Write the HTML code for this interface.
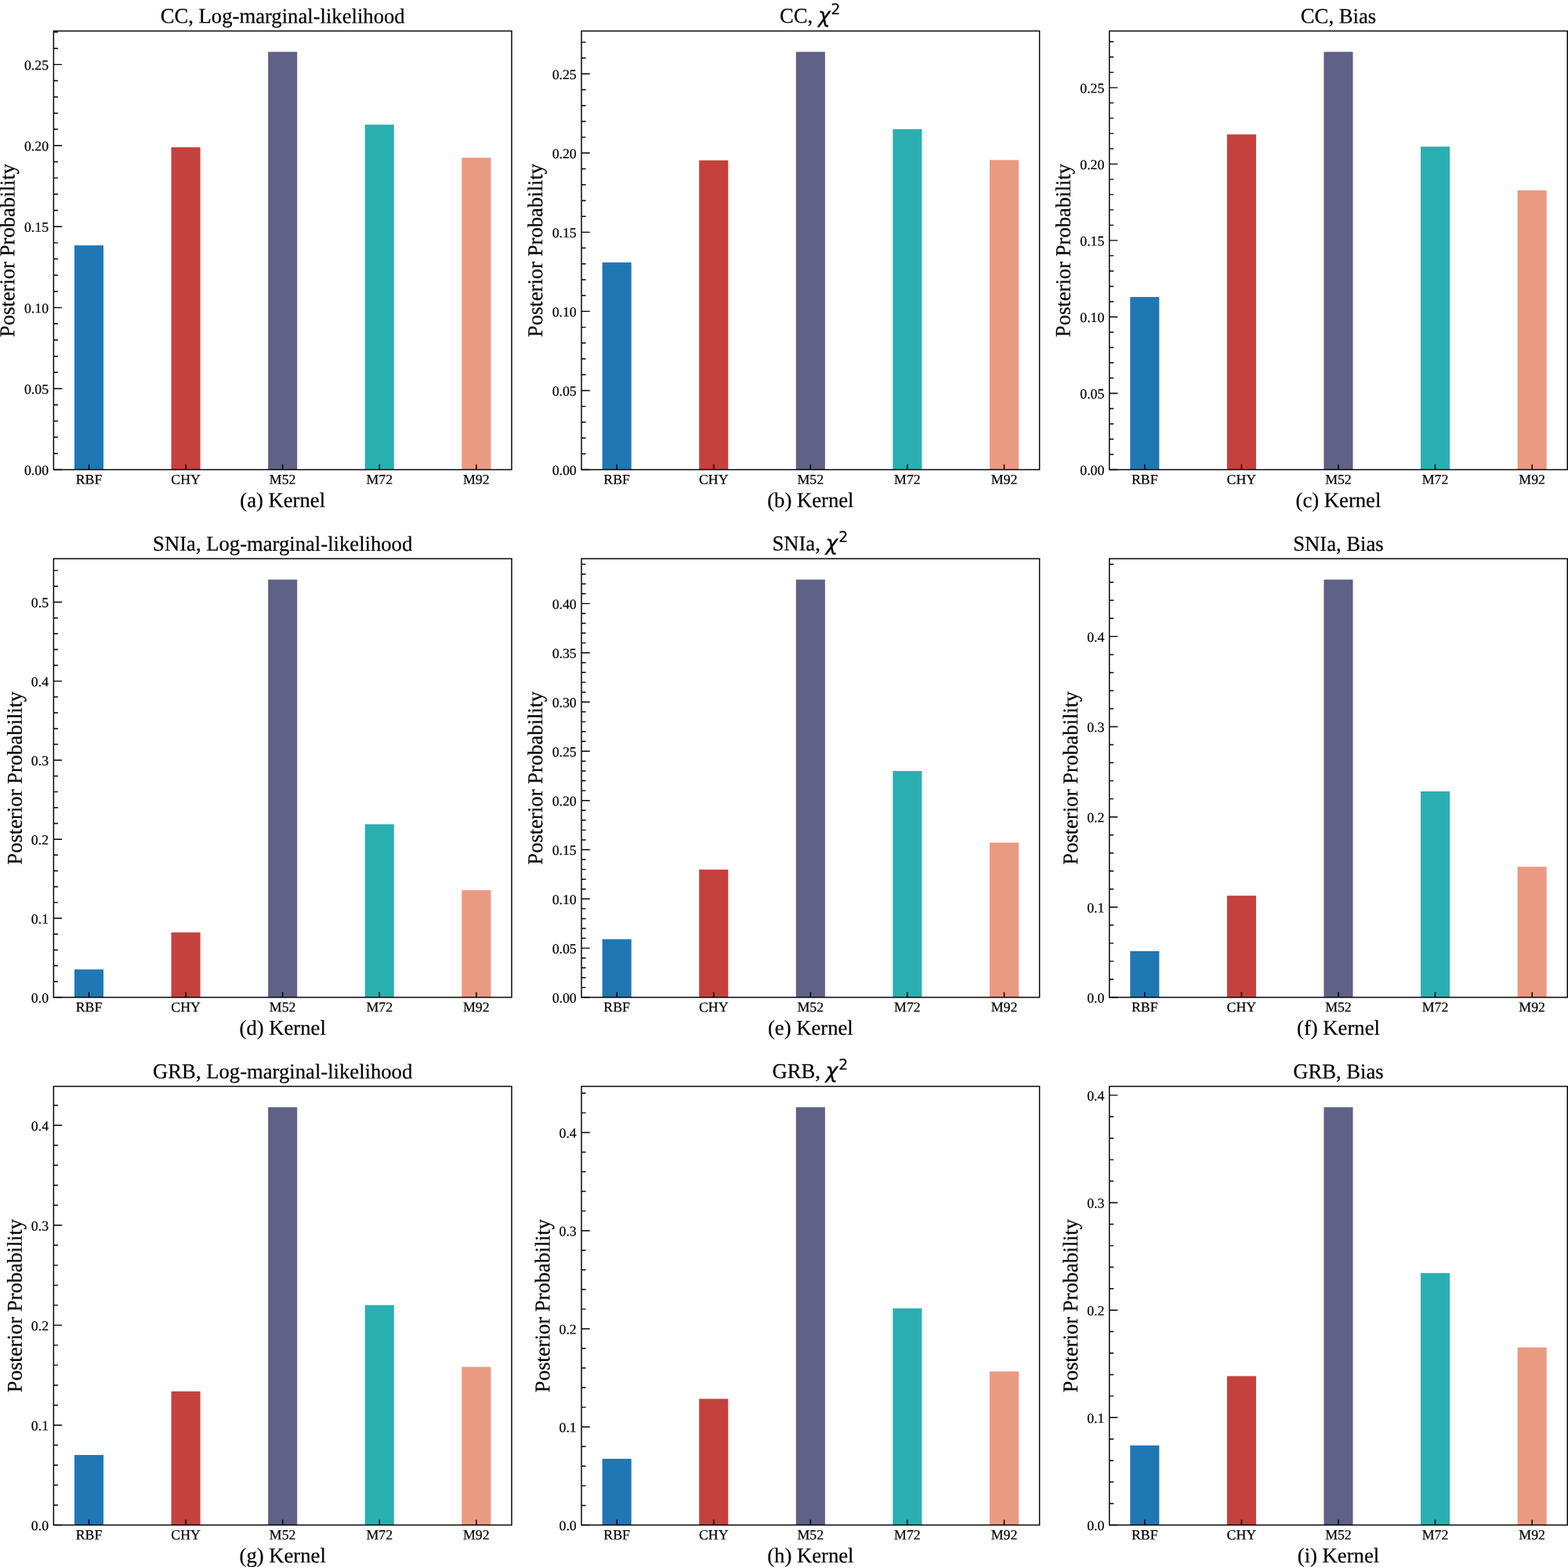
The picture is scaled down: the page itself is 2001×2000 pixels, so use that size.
<!DOCTYPE html>
<html lang="en"><head><meta charset="utf-8"><title>Posterior probability of kernels</title>
<style>
html,body{margin:0;padding:0;background:#fff;}
body{width:2001px;height:2000px;overflow:hidden;}
svg{display:block;}
text{font-family:"Liberation Serif","Times New Roman",serif;fill:#000;stroke:#000;stroke-width:0.22px;text-rendering:geometricPrecision;}
.t{font-size:26.67px;text-anchor:middle;}
.k{font-size:17.8px;}
.xk{text-anchor:middle;}
.yk{text-anchor:end;}
.m{font-family:"DejaVu Sans",sans-serif;font-style:italic;}
.s{font-family:"DejaVu Sans",sans-serif;font-size:18.67px;}
.sp{fill:none;stroke:#000;stroke-width:1.45;stroke-linecap:square;}
.tk{stroke:#000;stroke-width:1.45;fill:none;}
</style></head><body>
<svg xmlns="http://www.w3.org/2000/svg" width="2001" height="2000" viewBox="0 0 2001 2000">
<rect width="2001" height="2000" fill="#fff"/>
<g>
<rect x="94.97" y="313.18" width="37.08" height="286.27" fill="#1f77b4"/>
<rect x="218.55" y="188.04" width="37.08" height="411.41" fill="#c4413d"/>
<rect x="342.14" y="66.21" width="37.08" height="533.24" fill="#5f6186"/>
<rect x="465.72" y="159.08" width="37.08" height="440.37" fill="#2aafb0"/>
<rect x="589.3" y="201.28" width="37.08" height="398.17" fill="#eb9a82"/>
<path class="tk" d="M68.4 599.45h10.67M68.4 578.77h5.5M68.4 558.08h5.5M68.4 537.4h5.5M68.4 516.71h5.5M68.4 496.03h10.67M68.4 475.34h5.5M68.4 454.66h5.5M68.4 433.98h5.5M68.4 413.29h5.5M68.4 392.61h10.67M68.4 371.92h5.5M68.4 351.24h5.5M68.4 330.56h5.5M68.4 309.87h5.5M68.4 289.19h10.67M68.4 268.5h5.5M68.4 247.82h5.5M68.4 227.13h5.5M68.4 206.45h5.5M68.4 185.77h10.67M68.4 165.08h5.5M68.4 144.4h5.5M68.4 123.71h5.5M68.4 103.03h5.5M68.4 82.35h10.67M68.4 61.66h5.5M68.4 40.98h5.5M113.51 599.45v-6.67M237.09 599.45v-6.67M360.67 599.45v-6.67M484.26 599.45v-6.67M607.84 599.45v-6.67"/>
<rect class="sp" x="68.4" y="39.55" width="584.55" height="559.9"/>
<text class="k yk" transform="translate(62.1 606.05) rotate(0.03)" xml:space="preserve">0.00</text>
<text class="k yk" transform="translate(62.1 502.63) rotate(0.03)" xml:space="preserve">0.05</text>
<text class="k yk" transform="translate(62.1 399.21) rotate(0.03)" xml:space="preserve">0.10</text>
<text class="k yk" transform="translate(62.1 295.79) rotate(0.03)" xml:space="preserve">0.15</text>
<text class="k yk" transform="translate(62.1 192.37) rotate(0.03)" xml:space="preserve">0.20</text>
<text class="k yk" transform="translate(62.1 88.95) rotate(0.03)" xml:space="preserve">0.25</text>
<text class="k xk" transform="translate(113.51 617.8) rotate(0.03)" xml:space="preserve">RBF</text>
<text class="k xk" transform="translate(237.09 617.8) rotate(0.03)" xml:space="preserve">CHY</text>
<text class="k xk" transform="translate(360.67 617.8) rotate(0.03)" xml:space="preserve">M52</text>
<text class="k xk" transform="translate(484.26 617.8) rotate(0.03)" xml:space="preserve">M72</text>
<text class="k xk" transform="translate(607.84 617.8) rotate(0.03)" xml:space="preserve">M92</text>
<text class="t" transform="translate(360.67 647.3) rotate(0.03) scale(1 1.015)" xml:space="preserve">(a) Kernel</text>
<text class="t" transform="translate(18.36 319.5) rotate(-89.97) scale(1 1.015)" xml:space="preserve">Posterior Probability</text>
<text class="t" transform="translate(360.67 29.4) rotate(0.03) scale(1 1.015)" xml:space="preserve">CC, Log-marginal-likelihood</text>
</g>
<g>
<rect x="768.62" y="334.95" width="37.08" height="264.5" fill="#1f77b4"/>
<rect x="892.2" y="204.62" width="37.08" height="394.83" fill="#c4413d"/>
<rect x="1015.79" y="66.21" width="37.08" height="533.24" fill="#5f6186"/>
<rect x="1139.37" y="164.82" width="37.08" height="434.63" fill="#2aafb0"/>
<rect x="1262.95" y="204.22" width="37.08" height="395.23" fill="#eb9a82"/>
<path class="tk" d="M742.05 599.45h10.67M742.05 579.24h5.5M742.05 559.04h5.5M742.05 538.83h5.5M742.05 518.63h5.5M742.05 498.42h10.67M742.05 478.21h5.5M742.05 458.01h5.5M742.05 437.8h5.5M742.05 417.6h5.5M742.05 397.39h10.67M742.05 377.18h5.5M742.05 356.98h5.5M742.05 336.77h5.5M742.05 316.57h5.5M742.05 296.36h10.67M742.05 276.15h5.5M742.05 255.95h5.5M742.05 235.74h5.5M742.05 215.53h5.5M742.05 195.33h10.67M742.05 175.12h5.5M742.05 154.92h5.5M742.05 134.71h5.5M742.05 114.5h5.5M742.05 94.3h10.67M742.05 74.09h5.5M742.05 53.89h5.5M787.16 599.45v-6.67M910.74 599.45v-6.67M1034.32 599.45v-6.67M1157.91 599.45v-6.67M1281.49 599.45v-6.67"/>
<rect class="sp" x="742.05" y="39.55" width="584.55" height="559.9"/>
<text class="k yk" transform="translate(735.75 606.05) rotate(0.03)" xml:space="preserve">0.00</text>
<text class="k yk" transform="translate(735.75 505.02) rotate(0.03)" xml:space="preserve">0.05</text>
<text class="k yk" transform="translate(735.75 403.99) rotate(0.03)" xml:space="preserve">0.10</text>
<text class="k yk" transform="translate(735.75 302.96) rotate(0.03)" xml:space="preserve">0.15</text>
<text class="k yk" transform="translate(735.75 201.93) rotate(0.03)" xml:space="preserve">0.20</text>
<text class="k yk" transform="translate(735.75 100.9) rotate(0.03)" xml:space="preserve">0.25</text>
<text class="k xk" transform="translate(787.16 617.8) rotate(0.03)" xml:space="preserve">RBF</text>
<text class="k xk" transform="translate(910.74 617.8) rotate(0.03)" xml:space="preserve">CHY</text>
<text class="k xk" transform="translate(1034.32 617.8) rotate(0.03)" xml:space="preserve">M52</text>
<text class="k xk" transform="translate(1157.91 617.8) rotate(0.03)" xml:space="preserve">M72</text>
<text class="k xk" transform="translate(1281.49 617.8) rotate(0.03)" xml:space="preserve">M92</text>
<text class="t" transform="translate(1034.32 647.3) rotate(0.03) scale(1 1.015)" xml:space="preserve">(b) Kernel</text>
<text class="t" transform="translate(692.01 319.5) rotate(-89.97) scale(1 1.015)" xml:space="preserve">Posterior Probability</text>
<text class="t" transform="translate(1033.72 29.1) rotate(0.03) scale(1 1.015)" xml:space="preserve">CC, <tspan class="m" dy="-0.4">χ</tspan><tspan class="s" dy="-10.4" dx="0.9">2</tspan></text>
</g>
<g>
<rect x="1442.27" y="379.06" width="37.08" height="220.39" fill="#1f77b4"/>
<rect x="1565.85" y="171.53" width="37.08" height="427.92" fill="#c4413d"/>
<rect x="1689.44" y="66.21" width="37.08" height="533.24" fill="#5f6186"/>
<rect x="1813.02" y="187.14" width="37.08" height="412.31" fill="#2aafb0"/>
<rect x="1936.6" y="242.92" width="37.08" height="356.53" fill="#eb9a82"/>
<path class="tk" d="M1415.7 599.45h10.67M1415.7 579.95h5.5M1415.7 560.44h5.5M1415.7 540.94h5.5M1415.7 521.43h5.5M1415.7 501.93h10.67M1415.7 482.43h5.5M1415.7 462.92h5.5M1415.7 443.42h5.5M1415.7 423.91h5.5M1415.7 404.41h10.67M1415.7 384.91h5.5M1415.7 365.4h5.5M1415.7 345.9h5.5M1415.7 326.39h5.5M1415.7 306.89h10.67M1415.7 287.39h5.5M1415.7 267.88h5.5M1415.7 248.38h5.5M1415.7 228.87h5.5M1415.7 209.37h10.67M1415.7 189.87h5.5M1415.7 170.36h5.5M1415.7 150.86h5.5M1415.7 131.36h5.5M1415.7 111.85h10.67M1415.7 92.35h5.5M1415.7 72.84h5.5M1415.7 53.34h5.5M1460.81 599.45v-6.67M1584.39 599.45v-6.67M1707.97 599.45v-6.67M1831.56 599.45v-6.67M1955.14 599.45v-6.67"/>
<rect class="sp" x="1415.7" y="39.55" width="584.55" height="559.9"/>
<text class="k yk" transform="translate(1409.4 606.05) rotate(0.03)" xml:space="preserve">0.00</text>
<text class="k yk" transform="translate(1409.4 508.53) rotate(0.03)" xml:space="preserve">0.05</text>
<text class="k yk" transform="translate(1409.4 411.01) rotate(0.03)" xml:space="preserve">0.10</text>
<text class="k yk" transform="translate(1409.4 313.49) rotate(0.03)" xml:space="preserve">0.15</text>
<text class="k yk" transform="translate(1409.4 215.97) rotate(0.03)" xml:space="preserve">0.20</text>
<text class="k yk" transform="translate(1409.4 118.45) rotate(0.03)" xml:space="preserve">0.25</text>
<text class="k xk" transform="translate(1460.81 617.8) rotate(0.03)" xml:space="preserve">RBF</text>
<text class="k xk" transform="translate(1584.39 617.8) rotate(0.03)" xml:space="preserve">CHY</text>
<text class="k xk" transform="translate(1707.97 617.8) rotate(0.03)" xml:space="preserve">M52</text>
<text class="k xk" transform="translate(1831.56 617.8) rotate(0.03)" xml:space="preserve">M72</text>
<text class="k xk" transform="translate(1955.14 617.8) rotate(0.03)" xml:space="preserve">M92</text>
<text class="t" transform="translate(1707.97 647.3) rotate(0.03) scale(1 1.015)" xml:space="preserve">(c) Kernel</text>
<text class="t" transform="translate(1365.66 319.5) rotate(-89.97) scale(1 1.015)" xml:space="preserve">Posterior Probability</text>
<text class="t" transform="translate(1707.97 29.4) rotate(0.03) scale(1 1.015)" xml:space="preserve">CC, Bias</text>
</g>
<g>
<rect x="94.97" y="1237.33" width="37.08" height="35.62" fill="#1f77b4"/>
<rect x="218.55" y="1190.11" width="37.08" height="82.84" fill="#c4413d"/>
<rect x="342.14" y="739.71" width="37.08" height="533.24" fill="#5f6186"/>
<rect x="465.72" y="1052.09" width="37.08" height="220.86" fill="#2aafb0"/>
<rect x="589.3" y="1136.13" width="37.08" height="136.82" fill="#eb9a82"/>
<path class="tk" d="M68.4 1272.95h10.67M68.4 1252.77h5.5M68.4 1232.59h5.5M68.4 1212.41h5.5M68.4 1192.23h5.5M68.4 1172.05h10.67M68.4 1151.87h5.5M68.4 1131.69h5.5M68.4 1111.52h5.5M68.4 1091.34h5.5M68.4 1071.16h10.67M68.4 1050.98h5.5M68.4 1030.8h5.5M68.4 1010.62h5.5M68.4 990.44h5.5M68.4 970.26h10.67M68.4 950.08h5.5M68.4 929.9h5.5M68.4 909.72h5.5M68.4 889.54h5.5M68.4 869.36h10.67M68.4 849.18h5.5M68.4 829.01h5.5M68.4 808.83h5.5M68.4 788.65h5.5M68.4 768.47h10.67M68.4 748.29h5.5M68.4 728.11h5.5M113.51 1272.95v-6.67M237.09 1272.95v-6.67M360.67 1272.95v-6.67M484.26 1272.95v-6.67M607.84 1272.95v-6.67"/>
<rect class="sp" x="68.4" y="713.05" width="584.55" height="559.9"/>
<text class="k yk" transform="translate(62.1 1279.55) rotate(0.03)" xml:space="preserve">0.0</text>
<text class="k yk" transform="translate(62.1 1178.65) rotate(0.03)" xml:space="preserve">0.1</text>
<text class="k yk" transform="translate(62.1 1077.76) rotate(0.03)" xml:space="preserve">0.2</text>
<text class="k yk" transform="translate(62.1 976.86) rotate(0.03)" xml:space="preserve">0.3</text>
<text class="k yk" transform="translate(62.1 875.96) rotate(0.03)" xml:space="preserve">0.4</text>
<text class="k yk" transform="translate(62.1 775.07) rotate(0.03)" xml:space="preserve">0.5</text>
<text class="k xk" transform="translate(113.51 1291.3) rotate(0.03)" xml:space="preserve">RBF</text>
<text class="k xk" transform="translate(237.09 1291.3) rotate(0.03)" xml:space="preserve">CHY</text>
<text class="k xk" transform="translate(360.67 1291.3) rotate(0.03)" xml:space="preserve">M52</text>
<text class="k xk" transform="translate(484.26 1291.3) rotate(0.03)" xml:space="preserve">M72</text>
<text class="k xk" transform="translate(607.84 1291.3) rotate(0.03)" xml:space="preserve">M92</text>
<text class="t" transform="translate(360.67 1320.8) rotate(0.03) scale(1 1.015)" xml:space="preserve">(d) Kernel</text>
<text class="t" transform="translate(27.69 993) rotate(-89.97) scale(1 1.015)" xml:space="preserve">Posterior Probability</text>
<text class="t" transform="translate(360.67 702.9) rotate(0.03) scale(1 1.015)" xml:space="preserve">SNIa, Log-marginal-likelihood</text>
</g>
<g>
<rect x="768.62" y="1198.69" width="37.08" height="74.26" fill="#1f77b4"/>
<rect x="892.2" y="1109.86" width="37.08" height="163.09" fill="#c4413d"/>
<rect x="1015.79" y="739.71" width="37.08" height="533.24" fill="#5f6186"/>
<rect x="1139.37" y="984.09" width="37.08" height="288.86" fill="#2aafb0"/>
<rect x="1262.95" y="1075.44" width="37.08" height="197.51" fill="#eb9a82"/>
<path class="tk" d="M742.05 1272.95h10.67M742.05 1260.39h5.5M742.05 1247.82h5.5M742.05 1235.26h5.5M742.05 1222.69h5.5M742.05 1210.13h10.67M742.05 1197.56h5.5M742.05 1185h5.5M742.05 1172.43h5.5M742.05 1159.87h5.5M742.05 1147.3h10.67M742.05 1134.74h5.5M742.05 1122.18h5.5M742.05 1109.61h5.5M742.05 1097.05h5.5M742.05 1084.48h10.67M742.05 1071.92h5.5M742.05 1059.35h5.5M742.05 1046.79h5.5M742.05 1034.22h5.5M742.05 1021.66h10.67M742.05 1009.1h5.5M742.05 996.53h5.5M742.05 983.97h5.5M742.05 971.4h5.5M742.05 958.84h10.67M742.05 946.27h5.5M742.05 933.71h5.5M742.05 921.14h5.5M742.05 908.58h5.5M742.05 896.01h10.67M742.05 883.45h5.5M742.05 870.89h5.5M742.05 858.32h5.5M742.05 845.76h5.5M742.05 833.19h10.67M742.05 820.63h5.5M742.05 808.06h5.5M742.05 795.5h5.5M742.05 782.93h5.5M742.05 770.37h10.67M742.05 757.8h5.5M742.05 745.24h5.5M742.05 732.68h5.5M742.05 720.11h5.5M787.16 1272.95v-6.67M910.74 1272.95v-6.67M1034.32 1272.95v-6.67M1157.91 1272.95v-6.67M1281.49 1272.95v-6.67"/>
<rect class="sp" x="742.05" y="713.05" width="584.55" height="559.9"/>
<text class="k yk" transform="translate(735.75 1279.55) rotate(0.03)" xml:space="preserve">0.00</text>
<text class="k yk" transform="translate(735.75 1216.73) rotate(0.03)" xml:space="preserve">0.05</text>
<text class="k yk" transform="translate(735.75 1153.9) rotate(0.03)" xml:space="preserve">0.10</text>
<text class="k yk" transform="translate(735.75 1091.08) rotate(0.03)" xml:space="preserve">0.15</text>
<text class="k yk" transform="translate(735.75 1028.26) rotate(0.03)" xml:space="preserve">0.20</text>
<text class="k yk" transform="translate(735.75 965.44) rotate(0.03)" xml:space="preserve">0.25</text>
<text class="k yk" transform="translate(735.75 902.61) rotate(0.03)" xml:space="preserve">0.30</text>
<text class="k yk" transform="translate(735.75 839.79) rotate(0.03)" xml:space="preserve">0.35</text>
<text class="k yk" transform="translate(735.75 776.97) rotate(0.03)" xml:space="preserve">0.40</text>
<text class="k xk" transform="translate(787.16 1291.3) rotate(0.03)" xml:space="preserve">RBF</text>
<text class="k xk" transform="translate(910.74 1291.3) rotate(0.03)" xml:space="preserve">CHY</text>
<text class="k xk" transform="translate(1034.32 1291.3) rotate(0.03)" xml:space="preserve">M52</text>
<text class="k xk" transform="translate(1157.91 1291.3) rotate(0.03)" xml:space="preserve">M72</text>
<text class="k xk" transform="translate(1281.49 1291.3) rotate(0.03)" xml:space="preserve">M92</text>
<text class="t" transform="translate(1034.32 1320.8) rotate(0.03) scale(1 1.015)" xml:space="preserve">(e) Kernel</text>
<text class="t" transform="translate(692.01 993) rotate(-89.97) scale(1 1.015)" xml:space="preserve">Posterior Probability</text>
<text class="t" transform="translate(1033.72 702.6) rotate(0.03) scale(1 1.015)" xml:space="preserve">SNIa, <tspan class="m" dy="-0.4">χ</tspan><tspan class="s" dy="-10.4" dx="0.9">2</tspan></text>
</g>
<g>
<rect x="1442.27" y="1214" width="37.08" height="58.95" fill="#1f77b4"/>
<rect x="1565.85" y="1143.18" width="37.08" height="129.77" fill="#c4413d"/>
<rect x="1689.44" y="739.71" width="37.08" height="533.24" fill="#5f6186"/>
<rect x="1813.02" y="1010.07" width="37.08" height="262.88" fill="#2aafb0"/>
<rect x="1936.6" y="1106.22" width="37.08" height="166.73" fill="#eb9a82"/>
<path class="tk" d="M1415.7 1272.95h10.67M1415.7 1249.92h5.5M1415.7 1226.89h5.5M1415.7 1203.86h5.5M1415.7 1180.83h5.5M1415.7 1157.8h10.67M1415.7 1134.78h5.5M1415.7 1111.75h5.5M1415.7 1088.72h5.5M1415.7 1065.69h5.5M1415.7 1042.66h10.67M1415.7 1019.63h5.5M1415.7 996.6h5.5M1415.7 973.57h5.5M1415.7 950.54h5.5M1415.7 927.51h10.67M1415.7 904.48h5.5M1415.7 881.46h5.5M1415.7 858.43h5.5M1415.7 835.4h5.5M1415.7 812.37h10.67M1415.7 789.34h5.5M1415.7 766.31h5.5M1415.7 743.28h5.5M1415.7 720.25h5.5M1460.81 1272.95v-6.67M1584.39 1272.95v-6.67M1707.97 1272.95v-6.67M1831.56 1272.95v-6.67M1955.14 1272.95v-6.67"/>
<rect class="sp" x="1415.7" y="713.05" width="584.55" height="559.9"/>
<text class="k yk" transform="translate(1409.4 1279.55) rotate(0.03)" xml:space="preserve">0.0</text>
<text class="k yk" transform="translate(1409.4 1164.4) rotate(0.03)" xml:space="preserve">0.1</text>
<text class="k yk" transform="translate(1409.4 1049.26) rotate(0.03)" xml:space="preserve">0.2</text>
<text class="k yk" transform="translate(1409.4 934.11) rotate(0.03)" xml:space="preserve">0.3</text>
<text class="k yk" transform="translate(1409.4 818.97) rotate(0.03)" xml:space="preserve">0.4</text>
<text class="k xk" transform="translate(1460.81 1291.3) rotate(0.03)" xml:space="preserve">RBF</text>
<text class="k xk" transform="translate(1584.39 1291.3) rotate(0.03)" xml:space="preserve">CHY</text>
<text class="k xk" transform="translate(1707.97 1291.3) rotate(0.03)" xml:space="preserve">M52</text>
<text class="k xk" transform="translate(1831.56 1291.3) rotate(0.03)" xml:space="preserve">M72</text>
<text class="k xk" transform="translate(1955.14 1291.3) rotate(0.03)" xml:space="preserve">M92</text>
<text class="t" transform="translate(1707.97 1320.8) rotate(0.03) scale(1 1.015)" xml:space="preserve">(f) Kernel</text>
<text class="t" transform="translate(1374.99 993) rotate(-89.97) scale(1 1.015)" xml:space="preserve">Posterior Probability</text>
<text class="t" transform="translate(1707.97 702.9) rotate(0.03) scale(1 1.015)" xml:space="preserve">SNIa, Bias</text>
</g>
<g>
<rect x="94.97" y="1857.05" width="37.08" height="89.4" fill="#1f77b4"/>
<rect x="218.55" y="1775.8" width="37.08" height="170.65" fill="#c4413d"/>
<rect x="342.14" y="1413.21" width="37.08" height="533.24" fill="#5f6186"/>
<rect x="465.72" y="1665.74" width="37.08" height="280.71" fill="#2aafb0"/>
<rect x="589.3" y="1744.56" width="37.08" height="201.89" fill="#eb9a82"/>
<path class="tk" d="M68.4 1946.45h10.67M68.4 1920.94h5.5M68.4 1895.43h5.5M68.4 1869.93h5.5M68.4 1844.42h5.5M68.4 1818.91h10.67M68.4 1793.4h5.5M68.4 1767.9h5.5M68.4 1742.39h5.5M68.4 1716.88h5.5M68.4 1691.37h10.67M68.4 1665.87h5.5M68.4 1640.36h5.5M68.4 1614.85h5.5M68.4 1589.34h5.5M68.4 1563.83h10.67M68.4 1538.33h5.5M68.4 1512.82h5.5M68.4 1487.31h5.5M68.4 1461.8h5.5M68.4 1436.3h10.67M68.4 1410.79h5.5M113.51 1946.45v-6.67M237.09 1946.45v-6.67M360.67 1946.45v-6.67M484.26 1946.45v-6.67M607.84 1946.45v-6.67"/>
<rect class="sp" x="68.4" y="1386.55" width="584.55" height="559.9"/>
<text class="k yk" transform="translate(62.1 1953.05) rotate(0.03)" xml:space="preserve">0.0</text>
<text class="k yk" transform="translate(62.1 1825.51) rotate(0.03)" xml:space="preserve">0.1</text>
<text class="k yk" transform="translate(62.1 1697.97) rotate(0.03)" xml:space="preserve">0.2</text>
<text class="k yk" transform="translate(62.1 1570.43) rotate(0.03)" xml:space="preserve">0.3</text>
<text class="k yk" transform="translate(62.1 1442.9) rotate(0.03)" xml:space="preserve">0.4</text>
<text class="k xk" transform="translate(113.51 1964.8) rotate(0.03)" xml:space="preserve">RBF</text>
<text class="k xk" transform="translate(237.09 1964.8) rotate(0.03)" xml:space="preserve">CHY</text>
<text class="k xk" transform="translate(360.67 1964.8) rotate(0.03)" xml:space="preserve">M52</text>
<text class="k xk" transform="translate(484.26 1964.8) rotate(0.03)" xml:space="preserve">M72</text>
<text class="k xk" transform="translate(607.84 1964.8) rotate(0.03)" xml:space="preserve">M92</text>
<text class="t" transform="translate(360.67 1994.3) rotate(0.03) scale(1 1.015)" xml:space="preserve">(g) Kernel</text>
<text class="t" transform="translate(27.69 1666.5) rotate(-89.97) scale(1 1.015)" xml:space="preserve">Posterior Probability</text>
<text class="t" transform="translate(360.67 1376.4) rotate(0.03) scale(1 1.015)" xml:space="preserve">GRB, Log-marginal-likelihood</text>
</g>
<g>
<rect x="768.62" y="1861.9" width="37.08" height="84.55" fill="#1f77b4"/>
<rect x="892.2" y="1785.36" width="37.08" height="161.09" fill="#c4413d"/>
<rect x="1015.79" y="1413.21" width="37.08" height="533.24" fill="#5f6186"/>
<rect x="1139.37" y="1669.87" width="37.08" height="276.58" fill="#2aafb0"/>
<rect x="1262.95" y="1750.42" width="37.08" height="196.03" fill="#eb9a82"/>
<path class="tk" d="M742.05 1946.45h10.67M742.05 1921.4h5.5M742.05 1896.35h5.5M742.05 1871.29h5.5M742.05 1846.24h5.5M742.05 1821.19h10.67M742.05 1796.14h5.5M742.05 1771.08h5.5M742.05 1746.03h5.5M742.05 1720.98h5.5M742.05 1695.93h10.67M742.05 1670.87h5.5M742.05 1645.82h5.5M742.05 1620.77h5.5M742.05 1595.72h5.5M742.05 1570.67h10.67M742.05 1545.61h5.5M742.05 1520.56h5.5M742.05 1495.51h5.5M742.05 1470.46h5.5M742.05 1445.4h10.67M742.05 1420.35h5.5M742.05 1395.3h5.5M787.16 1946.45v-6.67M910.74 1946.45v-6.67M1034.32 1946.45v-6.67M1157.91 1946.45v-6.67M1281.49 1946.45v-6.67"/>
<rect class="sp" x="742.05" y="1386.55" width="584.55" height="559.9"/>
<text class="k yk" transform="translate(735.75 1953.05) rotate(0.03)" xml:space="preserve">0.0</text>
<text class="k yk" transform="translate(735.75 1827.79) rotate(0.03)" xml:space="preserve">0.1</text>
<text class="k yk" transform="translate(735.75 1702.53) rotate(0.03)" xml:space="preserve">0.2</text>
<text class="k yk" transform="translate(735.75 1577.27) rotate(0.03)" xml:space="preserve">0.3</text>
<text class="k yk" transform="translate(735.75 1452) rotate(0.03)" xml:space="preserve">0.4</text>
<text class="k xk" transform="translate(787.16 1964.8) rotate(0.03)" xml:space="preserve">RBF</text>
<text class="k xk" transform="translate(910.74 1964.8) rotate(0.03)" xml:space="preserve">CHY</text>
<text class="k xk" transform="translate(1034.32 1964.8) rotate(0.03)" xml:space="preserve">M52</text>
<text class="k xk" transform="translate(1157.91 1964.8) rotate(0.03)" xml:space="preserve">M72</text>
<text class="k xk" transform="translate(1281.49 1964.8) rotate(0.03)" xml:space="preserve">M92</text>
<text class="t" transform="translate(1034.32 1994.3) rotate(0.03) scale(1 1.015)" xml:space="preserve">(h) Kernel</text>
<text class="t" transform="translate(701.34 1666.5) rotate(-89.97) scale(1 1.015)" xml:space="preserve">Posterior Probability</text>
<text class="t" transform="translate(1033.72 1376.1) rotate(0.03) scale(1 1.015)" xml:space="preserve">GRB, <tspan class="m" dy="-0.4">χ</tspan><tspan class="s" dy="-10.4" dx="0.9">2</tspan></text>
</g>
<g>
<rect x="1442.27" y="1844.82" width="37.08" height="101.63" fill="#1f77b4"/>
<rect x="1565.85" y="1756.36" width="37.08" height="190.09" fill="#c4413d"/>
<rect x="1689.44" y="1413.21" width="37.08" height="533.24" fill="#5f6186"/>
<rect x="1813.02" y="1624.83" width="37.08" height="321.62" fill="#2aafb0"/>
<rect x="1936.6" y="1719.74" width="37.08" height="226.71" fill="#eb9a82"/>
<path class="tk" d="M1415.7 1946.45h10.67M1415.7 1919.02h5.5M1415.7 1891.59h5.5M1415.7 1864.16h5.5M1415.7 1836.73h5.5M1415.7 1809.3h10.67M1415.7 1781.87h5.5M1415.7 1754.44h5.5M1415.7 1727.01h5.5M1415.7 1699.58h5.5M1415.7 1672.15h10.67M1415.7 1644.72h5.5M1415.7 1617.29h5.5M1415.7 1589.86h5.5M1415.7 1562.43h5.5M1415.7 1535h10.67M1415.7 1507.57h5.5M1415.7 1480.14h5.5M1415.7 1452.71h5.5M1415.7 1425.28h5.5M1415.7 1397.85h10.67M1460.81 1946.45v-6.67M1584.39 1946.45v-6.67M1707.97 1946.45v-6.67M1831.56 1946.45v-6.67M1955.14 1946.45v-6.67"/>
<rect class="sp" x="1415.7" y="1386.55" width="584.55" height="559.9"/>
<text class="k yk" transform="translate(1409.4 1953.05) rotate(0.03)" xml:space="preserve">0.0</text>
<text class="k yk" transform="translate(1409.4 1815.9) rotate(0.03)" xml:space="preserve">0.1</text>
<text class="k yk" transform="translate(1409.4 1678.75) rotate(0.03)" xml:space="preserve">0.2</text>
<text class="k yk" transform="translate(1409.4 1541.6) rotate(0.03)" xml:space="preserve">0.3</text>
<text class="k yk" transform="translate(1409.4 1404.45) rotate(0.03)" xml:space="preserve">0.4</text>
<text class="k xk" transform="translate(1460.81 1964.8) rotate(0.03)" xml:space="preserve">RBF</text>
<text class="k xk" transform="translate(1584.39 1964.8) rotate(0.03)" xml:space="preserve">CHY</text>
<text class="k xk" transform="translate(1707.97 1964.8) rotate(0.03)" xml:space="preserve">M52</text>
<text class="k xk" transform="translate(1831.56 1964.8) rotate(0.03)" xml:space="preserve">M72</text>
<text class="k xk" transform="translate(1955.14 1964.8) rotate(0.03)" xml:space="preserve">M92</text>
<text class="t" transform="translate(1707.97 1994.3) rotate(0.03) scale(1 1.015)" xml:space="preserve">(i) Kernel</text>
<text class="t" transform="translate(1374.99 1666.5) rotate(-89.97) scale(1 1.015)" xml:space="preserve">Posterior Probability</text>
<text class="t" transform="translate(1707.97 1376.4) rotate(0.03) scale(1 1.015)" xml:space="preserve">GRB, Bias</text>
</g>
</svg>
</body></html>
